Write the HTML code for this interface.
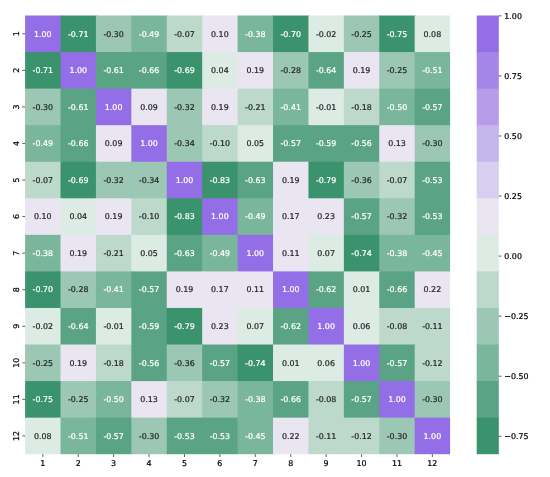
<!DOCTYPE html>
<html lang="en"><head><meta charset="utf-8"><title>Correlation heatmap</title>
<style>html,body{margin:0;padding:0;background:#fff;overflow:hidden}svg{display:block}text{font-family:"DejaVu Sans","Liberation Sans",sans-serif;font-size:7.92px}.a{text-anchor:middle}.w{fill:#fff;stroke:#fff}.d{fill:#262626;stroke:#262626}.k{fill:#000;stroke:#000}text{stroke-width:0.22px}</style></head><body>
<svg width="550" height="477" viewBox="0 0 550 477">
<rect width="550" height="477" fill="#fff"/>
<g>
<rect x="25.1" y="15.5" width="36.42" height="37.56" fill="#936ee6"/>
<rect x="60.52" y="15.5" width="36.42" height="37.56" fill="#3b936e"/>
<rect x="95.93" y="15.5" width="36.42" height="37.56" fill="#9bc7b4"/>
<rect x="131.35" y="15.5" width="36.42" height="37.56" fill="#7ab69c"/>
<rect x="166.77" y="15.5" width="36.42" height="37.56" fill="#bcd9cc"/>
<rect x="202.18" y="15.5" width="36.42" height="37.56" fill="#e9e6f1"/>
<rect x="237.6" y="15.5" width="36.42" height="37.56" fill="#7ab69c"/>
<rect x="273.02" y="15.5" width="36.42" height="37.56" fill="#3b936e"/>
<rect x="308.43" y="15.5" width="36.42" height="37.56" fill="#dcebe4"/>
<rect x="343.85" y="15.5" width="36.42" height="37.56" fill="#9bc7b4"/>
<rect x="379.27" y="15.5" width="36.42" height="37.56" fill="#3b936e"/>
<rect x="414.68" y="15.5" width="35.42" height="37.56" fill="#dcebe4"/>
<rect x="25.1" y="52.06" width="36.42" height="37.56" fill="#3b936e"/>
<rect x="60.52" y="52.06" width="36.42" height="37.56" fill="#936ee6"/>
<rect x="95.93" y="52.06" width="36.42" height="37.56" fill="#5aa485"/>
<rect x="131.35" y="52.06" width="36.42" height="37.56" fill="#5aa485"/>
<rect x="166.77" y="52.06" width="36.42" height="37.56" fill="#3b936e"/>
<rect x="202.18" y="52.06" width="36.42" height="37.56" fill="#dcebe4"/>
<rect x="237.6" y="52.06" width="36.42" height="37.56" fill="#e9e6f1"/>
<rect x="273.02" y="52.06" width="36.42" height="37.56" fill="#9bc7b4"/>
<rect x="308.43" y="52.06" width="36.42" height="37.56" fill="#5aa485"/>
<rect x="343.85" y="52.06" width="36.42" height="37.56" fill="#e9e6f1"/>
<rect x="379.27" y="52.06" width="36.42" height="37.56" fill="#9bc7b4"/>
<rect x="414.68" y="52.06" width="35.42" height="37.56" fill="#7ab69c"/>
<rect x="25.1" y="88.62" width="36.42" height="37.56" fill="#9bc7b4"/>
<rect x="60.52" y="88.62" width="36.42" height="37.56" fill="#5aa485"/>
<rect x="95.93" y="88.62" width="36.42" height="37.56" fill="#936ee6"/>
<rect x="131.35" y="88.62" width="36.42" height="37.56" fill="#e9e6f1"/>
<rect x="166.77" y="88.62" width="36.42" height="37.56" fill="#9bc7b4"/>
<rect x="202.18" y="88.62" width="36.42" height="37.56" fill="#e9e6f1"/>
<rect x="237.6" y="88.62" width="36.42" height="37.56" fill="#bcd9cc"/>
<rect x="273.02" y="88.62" width="36.42" height="37.56" fill="#7ab69c"/>
<rect x="308.43" y="88.62" width="36.42" height="37.56" fill="#dcebe4"/>
<rect x="343.85" y="88.62" width="36.42" height="37.56" fill="#bcd9cc"/>
<rect x="379.27" y="88.62" width="36.42" height="37.56" fill="#7ab69c"/>
<rect x="414.68" y="88.62" width="35.42" height="37.56" fill="#5aa485"/>
<rect x="25.1" y="125.17" width="36.42" height="37.56" fill="#7ab69c"/>
<rect x="60.52" y="125.17" width="36.42" height="37.56" fill="#5aa485"/>
<rect x="95.93" y="125.17" width="36.42" height="37.56" fill="#e9e6f1"/>
<rect x="131.35" y="125.17" width="36.42" height="37.56" fill="#936ee6"/>
<rect x="166.77" y="125.17" width="36.42" height="37.56" fill="#9bc7b4"/>
<rect x="202.18" y="125.17" width="36.42" height="37.56" fill="#bcd9cc"/>
<rect x="237.6" y="125.17" width="36.42" height="37.56" fill="#dcebe4"/>
<rect x="273.02" y="125.17" width="36.42" height="37.56" fill="#5aa485"/>
<rect x="308.43" y="125.17" width="36.42" height="37.56" fill="#5aa485"/>
<rect x="343.85" y="125.17" width="36.42" height="37.56" fill="#5aa485"/>
<rect x="379.27" y="125.17" width="36.42" height="37.56" fill="#e9e6f1"/>
<rect x="414.68" y="125.17" width="35.42" height="37.56" fill="#9bc7b4"/>
<rect x="25.1" y="161.73" width="36.42" height="37.56" fill="#bcd9cc"/>
<rect x="60.52" y="161.73" width="36.42" height="37.56" fill="#3b936e"/>
<rect x="95.93" y="161.73" width="36.42" height="37.56" fill="#9bc7b4"/>
<rect x="131.35" y="161.73" width="36.42" height="37.56" fill="#9bc7b4"/>
<rect x="166.77" y="161.73" width="36.42" height="37.56" fill="#936ee6"/>
<rect x="202.18" y="161.73" width="36.42" height="37.56" fill="#3b936e"/>
<rect x="237.6" y="161.73" width="36.42" height="37.56" fill="#5aa485"/>
<rect x="273.02" y="161.73" width="36.42" height="37.56" fill="#e9e6f1"/>
<rect x="308.43" y="161.73" width="36.42" height="37.56" fill="#3b936e"/>
<rect x="343.85" y="161.73" width="36.42" height="37.56" fill="#9bc7b4"/>
<rect x="379.27" y="161.73" width="36.42" height="37.56" fill="#bcd9cc"/>
<rect x="414.68" y="161.73" width="35.42" height="37.56" fill="#5aa485"/>
<rect x="25.1" y="198.29" width="36.42" height="37.56" fill="#e9e6f1"/>
<rect x="60.52" y="198.29" width="36.42" height="37.56" fill="#dcebe4"/>
<rect x="95.93" y="198.29" width="36.42" height="37.56" fill="#e9e6f1"/>
<rect x="131.35" y="198.29" width="36.42" height="37.56" fill="#bcd9cc"/>
<rect x="166.77" y="198.29" width="36.42" height="37.56" fill="#3b936e"/>
<rect x="202.18" y="198.29" width="36.42" height="37.56" fill="#936ee6"/>
<rect x="237.6" y="198.29" width="36.42" height="37.56" fill="#7ab69c"/>
<rect x="273.02" y="198.29" width="36.42" height="37.56" fill="#e9e6f1"/>
<rect x="308.43" y="198.29" width="36.42" height="37.56" fill="#e9e6f1"/>
<rect x="343.85" y="198.29" width="36.42" height="37.56" fill="#5aa485"/>
<rect x="379.27" y="198.29" width="36.42" height="37.56" fill="#9bc7b4"/>
<rect x="414.68" y="198.29" width="35.42" height="37.56" fill="#5aa485"/>
<rect x="25.1" y="234.85" width="36.42" height="37.56" fill="#7ab69c"/>
<rect x="60.52" y="234.85" width="36.42" height="37.56" fill="#e9e6f1"/>
<rect x="95.93" y="234.85" width="36.42" height="37.56" fill="#bcd9cc"/>
<rect x="131.35" y="234.85" width="36.42" height="37.56" fill="#dcebe4"/>
<rect x="166.77" y="234.85" width="36.42" height="37.56" fill="#5aa485"/>
<rect x="202.18" y="234.85" width="36.42" height="37.56" fill="#7ab69c"/>
<rect x="237.6" y="234.85" width="36.42" height="37.56" fill="#936ee6"/>
<rect x="273.02" y="234.85" width="36.42" height="37.56" fill="#e9e6f1"/>
<rect x="308.43" y="234.85" width="36.42" height="37.56" fill="#dcebe4"/>
<rect x="343.85" y="234.85" width="36.42" height="37.56" fill="#3b936e"/>
<rect x="379.27" y="234.85" width="36.42" height="37.56" fill="#7ab69c"/>
<rect x="414.68" y="234.85" width="35.42" height="37.56" fill="#7ab69c"/>
<rect x="25.1" y="271.41" width="36.42" height="37.56" fill="#3b936e"/>
<rect x="60.52" y="271.41" width="36.42" height="37.56" fill="#9bc7b4"/>
<rect x="95.93" y="271.41" width="36.42" height="37.56" fill="#7ab69c"/>
<rect x="131.35" y="271.41" width="36.42" height="37.56" fill="#5aa485"/>
<rect x="166.77" y="271.41" width="36.42" height="37.56" fill="#e9e6f1"/>
<rect x="202.18" y="271.41" width="36.42" height="37.56" fill="#e9e6f1"/>
<rect x="237.6" y="271.41" width="36.42" height="37.56" fill="#e9e6f1"/>
<rect x="273.02" y="271.41" width="36.42" height="37.56" fill="#936ee6"/>
<rect x="308.43" y="271.41" width="36.42" height="37.56" fill="#5aa485"/>
<rect x="343.85" y="271.41" width="36.42" height="37.56" fill="#dcebe4"/>
<rect x="379.27" y="271.41" width="36.42" height="37.56" fill="#5aa485"/>
<rect x="414.68" y="271.41" width="35.42" height="37.56" fill="#e9e6f1"/>
<rect x="25.1" y="307.97" width="36.42" height="37.56" fill="#dcebe4"/>
<rect x="60.52" y="307.97" width="36.42" height="37.56" fill="#5aa485"/>
<rect x="95.93" y="307.97" width="36.42" height="37.56" fill="#dcebe4"/>
<rect x="131.35" y="307.97" width="36.42" height="37.56" fill="#5aa485"/>
<rect x="166.77" y="307.97" width="36.42" height="37.56" fill="#3b936e"/>
<rect x="202.18" y="307.97" width="36.42" height="37.56" fill="#e9e6f1"/>
<rect x="237.6" y="307.97" width="36.42" height="37.56" fill="#dcebe4"/>
<rect x="273.02" y="307.97" width="36.42" height="37.56" fill="#5aa485"/>
<rect x="308.43" y="307.97" width="36.42" height="37.56" fill="#936ee6"/>
<rect x="343.85" y="307.97" width="36.42" height="37.56" fill="#dcebe4"/>
<rect x="379.27" y="307.97" width="36.42" height="37.56" fill="#bcd9cc"/>
<rect x="414.68" y="307.97" width="35.42" height="37.56" fill="#bcd9cc"/>
<rect x="25.1" y="344.52" width="36.42" height="37.56" fill="#9bc7b4"/>
<rect x="60.52" y="344.52" width="36.42" height="37.56" fill="#e9e6f1"/>
<rect x="95.93" y="344.52" width="36.42" height="37.56" fill="#bcd9cc"/>
<rect x="131.35" y="344.52" width="36.42" height="37.56" fill="#5aa485"/>
<rect x="166.77" y="344.52" width="36.42" height="37.56" fill="#9bc7b4"/>
<rect x="202.18" y="344.52" width="36.42" height="37.56" fill="#5aa485"/>
<rect x="237.6" y="344.52" width="36.42" height="37.56" fill="#3b936e"/>
<rect x="273.02" y="344.52" width="36.42" height="37.56" fill="#dcebe4"/>
<rect x="308.43" y="344.52" width="36.42" height="37.56" fill="#dcebe4"/>
<rect x="343.85" y="344.52" width="36.42" height="37.56" fill="#936ee6"/>
<rect x="379.27" y="344.52" width="36.42" height="37.56" fill="#5aa485"/>
<rect x="414.68" y="344.52" width="35.42" height="37.56" fill="#bcd9cc"/>
<rect x="25.1" y="381.08" width="36.42" height="37.56" fill="#3b936e"/>
<rect x="60.52" y="381.08" width="36.42" height="37.56" fill="#9bc7b4"/>
<rect x="95.93" y="381.08" width="36.42" height="37.56" fill="#7ab69c"/>
<rect x="131.35" y="381.08" width="36.42" height="37.56" fill="#e9e6f1"/>
<rect x="166.77" y="381.08" width="36.42" height="37.56" fill="#bcd9cc"/>
<rect x="202.18" y="381.08" width="36.42" height="37.56" fill="#9bc7b4"/>
<rect x="237.6" y="381.08" width="36.42" height="37.56" fill="#7ab69c"/>
<rect x="273.02" y="381.08" width="36.42" height="37.56" fill="#5aa485"/>
<rect x="308.43" y="381.08" width="36.42" height="37.56" fill="#bcd9cc"/>
<rect x="343.85" y="381.08" width="36.42" height="37.56" fill="#5aa485"/>
<rect x="379.27" y="381.08" width="36.42" height="37.56" fill="#936ee6"/>
<rect x="414.68" y="381.08" width="35.42" height="37.56" fill="#9bc7b4"/>
<rect x="25.1" y="417.64" width="36.42" height="36.56" fill="#dcebe4"/>
<rect x="60.52" y="417.64" width="36.42" height="36.56" fill="#7ab69c"/>
<rect x="95.93" y="417.64" width="36.42" height="36.56" fill="#5aa485"/>
<rect x="131.35" y="417.64" width="36.42" height="36.56" fill="#9bc7b4"/>
<rect x="166.77" y="417.64" width="36.42" height="36.56" fill="#5aa485"/>
<rect x="202.18" y="417.64" width="36.42" height="36.56" fill="#5aa485"/>
<rect x="237.6" y="417.64" width="36.42" height="36.56" fill="#7ab69c"/>
<rect x="273.02" y="417.64" width="36.42" height="36.56" fill="#e9e6f1"/>
<rect x="308.43" y="417.64" width="36.42" height="36.56" fill="#bcd9cc"/>
<rect x="343.85" y="417.64" width="36.42" height="36.56" fill="#bcd9cc"/>
<rect x="379.27" y="417.64" width="36.42" height="36.56" fill="#9bc7b4"/>
<rect x="414.68" y="417.64" width="35.42" height="36.56" fill="#936ee6"/>
</g>
<g class="a">
<text class="w" x="42.81" y="36.58">1.00</text>
<text class="w" x="78.22" y="36.58">-0.71</text>
<text class="d" x="113.64" y="36.58">-0.30</text>
<text class="w" x="149.06" y="36.58">-0.49</text>
<text class="d" x="184.47" y="36.58">-0.07</text>
<text class="d" x="219.89" y="36.58">0.10</text>
<text class="w" x="255.31" y="36.58">-0.38</text>
<text class="w" x="290.73" y="36.58">-0.70</text>
<text class="d" x="326.14" y="36.58">-0.02</text>
<text class="d" x="361.56" y="36.58">-0.25</text>
<text class="w" x="396.98" y="36.58">-0.75</text>
<text class="d" x="432.39" y="36.58">0.08</text>
<text class="w" x="42.81" y="73.14">-0.71</text>
<text class="w" x="78.22" y="73.14">1.00</text>
<text class="w" x="113.64" y="73.14">-0.61</text>
<text class="w" x="149.06" y="73.14">-0.66</text>
<text class="w" x="184.47" y="73.14">-0.69</text>
<text class="d" x="219.89" y="73.14">0.04</text>
<text class="d" x="255.31" y="73.14">0.19</text>
<text class="d" x="290.73" y="73.14">-0.28</text>
<text class="w" x="326.14" y="73.14">-0.64</text>
<text class="d" x="361.56" y="73.14">0.19</text>
<text class="d" x="396.98" y="73.14">-0.25</text>
<text class="w" x="432.39" y="73.14">-0.51</text>
<text class="d" x="42.81" y="109.7">-0.30</text>
<text class="w" x="78.22" y="109.7">-0.61</text>
<text class="w" x="113.64" y="109.7">1.00</text>
<text class="d" x="149.06" y="109.7">0.09</text>
<text class="d" x="184.47" y="109.7">-0.32</text>
<text class="d" x="219.89" y="109.7">0.19</text>
<text class="d" x="255.31" y="109.7">-0.21</text>
<text class="w" x="290.73" y="109.7">-0.41</text>
<text class="d" x="326.14" y="109.7">-0.01</text>
<text class="d" x="361.56" y="109.7">-0.18</text>
<text class="w" x="396.98" y="109.7">-0.50</text>
<text class="w" x="432.39" y="109.7">-0.57</text>
<text class="w" x="42.81" y="146.26">-0.49</text>
<text class="w" x="78.22" y="146.26">-0.66</text>
<text class="d" x="113.64" y="146.26">0.09</text>
<text class="w" x="149.06" y="146.26">1.00</text>
<text class="d" x="184.47" y="146.26">-0.34</text>
<text class="d" x="219.89" y="146.26">-0.10</text>
<text class="d" x="255.31" y="146.26">0.05</text>
<text class="w" x="290.73" y="146.26">-0.57</text>
<text class="w" x="326.14" y="146.26">-0.59</text>
<text class="w" x="361.56" y="146.26">-0.56</text>
<text class="d" x="396.98" y="146.26">0.13</text>
<text class="d" x="432.39" y="146.26">-0.30</text>
<text class="d" x="42.81" y="182.82">-0.07</text>
<text class="w" x="78.22" y="182.82">-0.69</text>
<text class="d" x="113.64" y="182.82">-0.32</text>
<text class="d" x="149.06" y="182.82">-0.34</text>
<text class="w" x="184.47" y="182.82">1.00</text>
<text class="w" x="219.89" y="182.82">-0.83</text>
<text class="w" x="255.31" y="182.82">-0.63</text>
<text class="d" x="290.73" y="182.82">0.19</text>
<text class="w" x="326.14" y="182.82">-0.79</text>
<text class="d" x="361.56" y="182.82">-0.36</text>
<text class="d" x="396.98" y="182.82">-0.07</text>
<text class="w" x="432.39" y="182.82">-0.53</text>
<text class="d" x="42.81" y="219.37">0.10</text>
<text class="d" x="78.22" y="219.37">0.04</text>
<text class="d" x="113.64" y="219.37">0.19</text>
<text class="d" x="149.06" y="219.37">-0.10</text>
<text class="w" x="184.47" y="219.37">-0.83</text>
<text class="w" x="219.89" y="219.37">1.00</text>
<text class="w" x="255.31" y="219.37">-0.49</text>
<text class="d" x="290.73" y="219.37">0.17</text>
<text class="d" x="326.14" y="219.37">0.23</text>
<text class="w" x="361.56" y="219.37">-0.57</text>
<text class="d" x="396.98" y="219.37">-0.32</text>
<text class="w" x="432.39" y="219.37">-0.53</text>
<text class="w" x="42.81" y="255.93">-0.38</text>
<text class="d" x="78.22" y="255.93">0.19</text>
<text class="d" x="113.64" y="255.93">-0.21</text>
<text class="d" x="149.06" y="255.93">0.05</text>
<text class="w" x="184.47" y="255.93">-0.63</text>
<text class="w" x="219.89" y="255.93">-0.49</text>
<text class="w" x="255.31" y="255.93">1.00</text>
<text class="d" x="290.73" y="255.93">0.11</text>
<text class="d" x="326.14" y="255.93">0.07</text>
<text class="w" x="361.56" y="255.93">-0.74</text>
<text class="w" x="396.98" y="255.93">-0.38</text>
<text class="w" x="432.39" y="255.93">-0.45</text>
<text class="w" x="42.81" y="292.49">-0.70</text>
<text class="d" x="78.22" y="292.49">-0.28</text>
<text class="w" x="113.64" y="292.49">-0.41</text>
<text class="w" x="149.06" y="292.49">-0.57</text>
<text class="d" x="184.47" y="292.49">0.19</text>
<text class="d" x="219.89" y="292.49">0.17</text>
<text class="d" x="255.31" y="292.49">0.11</text>
<text class="w" x="290.73" y="292.49">1.00</text>
<text class="w" x="326.14" y="292.49">-0.62</text>
<text class="d" x="361.56" y="292.49">0.01</text>
<text class="w" x="396.98" y="292.49">-0.66</text>
<text class="d" x="432.39" y="292.49">0.22</text>
<text class="d" x="42.81" y="329.05">-0.02</text>
<text class="w" x="78.22" y="329.05">-0.64</text>
<text class="d" x="113.64" y="329.05">-0.01</text>
<text class="w" x="149.06" y="329.05">-0.59</text>
<text class="w" x="184.47" y="329.05">-0.79</text>
<text class="d" x="219.89" y="329.05">0.23</text>
<text class="d" x="255.31" y="329.05">0.07</text>
<text class="w" x="290.73" y="329.05">-0.62</text>
<text class="w" x="326.14" y="329.05">1.00</text>
<text class="d" x="361.56" y="329.05">0.06</text>
<text class="d" x="396.98" y="329.05">-0.08</text>
<text class="d" x="432.39" y="329.05">-0.11</text>
<text class="d" x="42.81" y="365.61">-0.25</text>
<text class="d" x="78.22" y="365.61">0.19</text>
<text class="d" x="113.64" y="365.61">-0.18</text>
<text class="w" x="149.06" y="365.61">-0.56</text>
<text class="d" x="184.47" y="365.61">-0.36</text>
<text class="w" x="219.89" y="365.61">-0.57</text>
<text class="w" x="255.31" y="365.61">-0.74</text>
<text class="d" x="290.73" y="365.61">0.01</text>
<text class="d" x="326.14" y="365.61">0.06</text>
<text class="w" x="361.56" y="365.61">1.00</text>
<text class="w" x="396.98" y="365.61">-0.57</text>
<text class="d" x="432.39" y="365.61">-0.12</text>
<text class="w" x="42.81" y="402.17">-0.75</text>
<text class="d" x="78.22" y="402.17">-0.25</text>
<text class="w" x="113.64" y="402.17">-0.50</text>
<text class="d" x="149.06" y="402.17">0.13</text>
<text class="d" x="184.47" y="402.17">-0.07</text>
<text class="d" x="219.89" y="402.17">-0.32</text>
<text class="w" x="255.31" y="402.17">-0.38</text>
<text class="w" x="290.73" y="402.17">-0.66</text>
<text class="d" x="326.14" y="402.17">-0.08</text>
<text class="w" x="361.56" y="402.17">-0.57</text>
<text class="w" x="396.98" y="402.17">1.00</text>
<text class="d" x="432.39" y="402.17">-0.30</text>
<text class="d" x="42.81" y="438.72">0.08</text>
<text class="w" x="78.22" y="438.72">-0.51</text>
<text class="w" x="113.64" y="438.72">-0.57</text>
<text class="d" x="149.06" y="438.72">-0.30</text>
<text class="w" x="184.47" y="438.72">-0.53</text>
<text class="w" x="219.89" y="438.72">-0.53</text>
<text class="w" x="255.31" y="438.72">-0.45</text>
<text class="d" x="290.73" y="438.72">0.22</text>
<text class="d" x="326.14" y="438.72">-0.11</text>
<text class="d" x="361.56" y="438.72">-0.12</text>
<text class="d" x="396.98" y="438.72">-0.30</text>
<text class="w" x="432.39" y="438.72">1.00</text>
</g>
<g stroke="#000" stroke-width="0.63">
<line x1="42.81" y1="454.2" x2="42.81" y2="456.97"/>
<line x1="22.33" y1="33.78" x2="25.1" y2="33.78"/>
<line x1="78.22" y1="454.2" x2="78.22" y2="456.97"/>
<line x1="22.33" y1="70.34" x2="25.1" y2="70.34"/>
<line x1="113.64" y1="454.2" x2="113.64" y2="456.97"/>
<line x1="22.33" y1="106.9" x2="25.1" y2="106.9"/>
<line x1="149.06" y1="454.2" x2="149.06" y2="456.97"/>
<line x1="22.33" y1="143.45" x2="25.1" y2="143.45"/>
<line x1="184.47" y1="454.2" x2="184.47" y2="456.97"/>
<line x1="22.33" y1="180.01" x2="25.1" y2="180.01"/>
<line x1="219.89" y1="454.2" x2="219.89" y2="456.97"/>
<line x1="22.33" y1="216.57" x2="25.1" y2="216.57"/>
<line x1="255.31" y1="454.2" x2="255.31" y2="456.97"/>
<line x1="22.33" y1="253.13" x2="25.1" y2="253.13"/>
<line x1="290.73" y1="454.2" x2="290.73" y2="456.97"/>
<line x1="22.33" y1="289.69" x2="25.1" y2="289.69"/>
<line x1="326.14" y1="454.2" x2="326.14" y2="456.97"/>
<line x1="22.33" y1="326.25" x2="25.1" y2="326.25"/>
<line x1="361.56" y1="454.2" x2="361.56" y2="456.97"/>
<line x1="22.33" y1="362.8" x2="25.1" y2="362.8"/>
<line x1="396.98" y1="454.2" x2="396.98" y2="456.97"/>
<line x1="22.33" y1="399.36" x2="25.1" y2="399.36"/>
<line x1="432.39" y1="454.2" x2="432.39" y2="456.97"/>
<line x1="22.33" y1="435.92" x2="25.1" y2="435.92"/>
</g>
<g class="a k">
<text x="42.81" y="466.1">1</text>
<text x="78.22" y="466.1">2</text>
<text x="113.64" y="466.1">3</text>
<text x="149.06" y="466.1">4</text>
<text x="184.47" y="466.1">5</text>
<text x="219.89" y="466.1">6</text>
<text x="255.31" y="466.1">7</text>
<text x="290.73" y="466.1">8</text>
<text x="326.14" y="466.1">9</text>
<text x="361.56" y="466.1">10</text>
<text x="396.98" y="466.1">11</text>
<text x="432.39" y="466.1">12</text>
<text transform="translate(18.6 33.78) rotate(-90)">1</text>
<text transform="translate(18.6 70.34) rotate(-90)">2</text>
<text transform="translate(18.6 106.9) rotate(-90)">3</text>
<text transform="translate(18.6 143.45) rotate(-90)">4</text>
<text transform="translate(18.6 180.01) rotate(-90)">5</text>
<text transform="translate(18.6 216.57) rotate(-90)">6</text>
<text transform="translate(18.6 253.13) rotate(-90)">7</text>
<text transform="translate(18.6 289.69) rotate(-90)">8</text>
<text transform="translate(18.6 326.25) rotate(-90)">9</text>
<text transform="translate(18.6 362.8) rotate(-90)">10</text>
<text transform="translate(18.6 399.36) rotate(-90)">11</text>
<text transform="translate(18.6 435.92) rotate(-90)">12</text>
</g>
<g>
<rect x="476.7" y="15.5" width="22.1" height="37.56" fill="#936ee6"/>
<rect x="476.7" y="52.06" width="22.1" height="37.56" fill="#a485e8"/>
<rect x="476.7" y="88.62" width="22.1" height="37.56" fill="#b59dea"/>
<rect x="476.7" y="125.17" width="22.1" height="37.56" fill="#c6b5ed"/>
<rect x="476.7" y="161.73" width="22.1" height="37.56" fill="#d8ceef"/>
<rect x="476.7" y="198.29" width="22.1" height="37.56" fill="#e9e6f1"/>
<rect x="476.7" y="234.85" width="22.1" height="37.56" fill="#dcebe4"/>
<rect x="476.7" y="271.41" width="22.1" height="37.56" fill="#bcd9cc"/>
<rect x="476.7" y="307.97" width="22.1" height="37.56" fill="#9bc7b4"/>
<rect x="476.7" y="344.52" width="22.1" height="37.56" fill="#7ab69c"/>
<rect x="476.7" y="381.08" width="22.1" height="37.56" fill="#5aa485"/>
<rect x="476.7" y="417.64" width="22.1" height="36.56" fill="#3b936e"/>
</g>
<g stroke="#000" stroke-width="0.63">
<line x1="498.8" y1="15.85" x2="501.57" y2="15.85"/>
<line x1="498.8" y1="75.91" x2="501.57" y2="75.91"/>
<line x1="498.8" y1="135.98" x2="501.57" y2="135.98"/>
<line x1="498.8" y1="196.04" x2="501.57" y2="196.04"/>
<line x1="498.8" y1="256.1" x2="501.57" y2="256.1"/>
<line x1="498.8" y1="316.16" x2="501.57" y2="316.16"/>
<line x1="498.8" y1="376.23" x2="501.57" y2="376.23"/>
<line x1="498.8" y1="436.29" x2="501.57" y2="436.29"/>
</g>
<g class="k">
<text x="504.34" y="18.6">1.00</text>
<text x="504.34" y="78.66">0.75</text>
<text x="504.34" y="138.73">0.50</text>
<text x="504.34" y="198.79">0.25</text>
<text x="504.34" y="258.85">0.00</text>
<text x="504.34" y="318.91">−0.25</text>
<text x="504.34" y="378.98">−0.50</text>
<text x="504.34" y="439.04">−0.75</text>
</g>
</svg></body></html>
